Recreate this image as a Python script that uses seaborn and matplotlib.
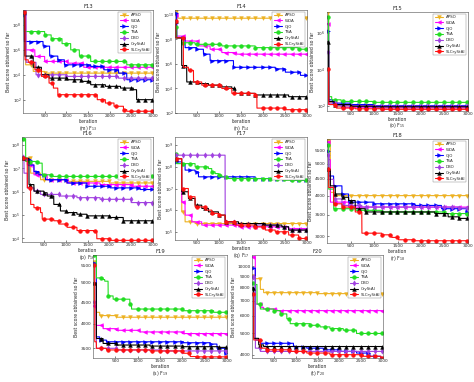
import numpy as np
import pandas as pd
import matplotlib
matplotlib.use('Agg')
import matplotlib.pyplot as plt
import seaborn as sns
from matplotlib.ticker import NullLocator, FuncFormatter, LogFormatterMathtext

ALGOS = ['APSO', 'WOA', 'GJO', 'TSA', 'DBO', 'CryStAl', 'SLCryStAl']
COLORS = {'APSO': '#EDB120', 'WOA': '#FF00FF', 'GJO': '#0000FF', 'TSA': '#22DD22',
          'DBO': '#A040E0', 'CryStAl': '#000000', 'SLCryStAl': '#FF1010'}
MARKERS = {'APSO': 'v', 'WOA': '<', 'GJO': '>', 'TSA': 'o', 'DBO': 'd',
           'CryStAl': '^', 'SLCryStAl': 'o'}
N_ITER = 3000

# convergence knots: (iteration, best score) ; F13-F17 store log10 of the score
f13_apso = ([0, 60, 235, 500], [9.1, 4.8, 4.27, 4.13])
f13_woa = ([0, 60, 273, 500, 1030, 1400], [9.25, 6.0, 5.47, 5.07, 4.93, 4.6])
f13_gjo = ([0, 30, 462, 614, 803, 955, 1561, 1864, 2205, 2394], [8.8, 6.67, 6.3, 5.5, 5.2, 4.8, 4.67, 4.4, 4.13, 3.6])
f13_tsa = ([0, 30, 500, 650, 900, 1100, 1300, 1561, 2394], [9.07, 7.47, 7.2, 6.9, 6.5, 6.0, 5.5, 5.07, 4.8])
f13_dbo = ([0, 70, 300, 1000, 2200], [9.0, 5.0, 4.0, 3.87, 3.73])
f13_crystal = ([0, 40, 235, 424, 600, 1030, 1333, 1561, 1900, 2250, 2545, 2621], [9.0, 5.5, 4.6, 4.0, 3.73, 3.6, 3.47, 3.2, 3.07, 2.93, 2.8, 2.0])
f13_slcrystal = ([0, 45, 121, 273, 424, 600, 700, 803, 1712, 1900, 2100, 2318, 2394], [9.0, 5.2, 5.0, 4.4, 3.87, 3.33, 2.93, 2.4, 2.0, 1.73, 1.47, 1.2, 1.07])

f14_apso = ([0, 61], [10.4, 9.73])
f14_woa = ([0, 38, 228, 532, 797, 1063, 1400], [10.0, 8.27, 7.87, 7.47, 7.2, 6.93, 6.8])
f14_gjo = ([0, 38, 228, 494, 646, 797, 1329, 2278, 2506, 2850], [10.13, 8.13, 7.33, 7.2, 6.8, 6.27, 5.73, 5.6, 5.33, 5.07])
f14_tsa = ([0, 38, 152, 456, 1063, 1823, 2800], [9.0, 8.13, 7.73, 7.6, 7.47, 7.33, 7.2])
f14_crystal = ([0, 15, 152, 266, 532, 760, 1063, 1291, 1367, 1823, 2582], [9.5, 8.13, 5.87, 4.53, 4.4, 4.27, 4.13, 4.0, 3.6, 3.47, 3.33])
f14_slcrystal = ([0, 15, 190, 304, 420, 608, 1063, 1291, 1823, 1861, 2500], [9.5, 8.13, 5.73, 5.47, 4.53, 4.27, 4.0, 3.6, 3.47, 2.4, 2.27])

f15_apso = ([0, 35, 200, 1000], [7.13, 2.2, 2.0, 1.9])
f15_woa = ([0, 35, 300, 1000], [6.5, 2.1, 1.94, 1.91])
f15_gjo = ([0, 35, 120, 500, 1000], [6.09, 2.35, 2.17, 2.09, 2.03])
f15_tsa = ([0, 35, 100, 300, 1000], [6.87, 2.52, 2.35, 2.26, 2.21])
f15_dbo = ([0, 35, 200, 1000], [4.96, 2.17, 2.03, 2.0])
f15_crystal = ([0, 35, 150, 500, 1000], [5.5, 2.26, 2.09, 2.0, 1.97])
f15_slcrystal = ([0, 35, 200, 600, 1200], [4.0, 2.09, 1.9, 1.86, 1.83])

f16_apso = ([0, 197, 424, 1000, 2000], [7.44, 6.8, 6.52, 6.45, 6.38])
f16_woa = ([0, 45, 121, 273, 576, 1030, 1788, 2500], [7.44, 7.37, 7.15, 6.73, 6.52, 6.38, 6.31, 6.24])
f16_gjo = ([0, 45, 197, 273, 386, 538, 1030, 1485, 2015, 2700], [7.44, 7.37, 7.15, 6.87, 6.73, 6.52, 6.38, 6.24, 6.17, 6.1])
f16_tsa = ([0, 83, 386, 462, 700], [8.28, 7.3, 7.23, 6.73, 6.66])
f16_dbo = ([0, 45, 121, 273, 424, 879, 1258, 1788, 2500], [7.5, 6.8, 6.17, 6.03, 5.89, 5.82, 5.75, 5.68, 5.54])
f16_crystal = ([0, 159, 273, 500, 576, 727, 879, 1030, 1258, 1485, 2015, 2318], [7.44, 6.31, 6.03, 5.96, 5.82, 5.46, 5.18, 5.11, 5.04, 4.97, 4.9, 4.76])
f16_slcrystal = ([0, 121, 197, 273, 424, 462, 727, 841, 1030, 1258, 1636, 1712, 2015], [7.44, 6.17, 5.46, 5.32, 5.11, 4.83, 4.76, 4.62, 4.48, 4.34, 4.31, 3.99, 3.92])

f17_apso = ([0, 152, 228, 456], [8.38, 5.92, 5.46, 5.38])
f17_woa = ([0, 152, 228, 380, 608, 1443, 2582], [8.38, 6.38, 5.77, 5.46, 5.31, 5.23, 5.15])
f17_gjo = ([0, 152, 228, 456, 532, 1823, 2700], [8.23, 8.15, 7.85, 7.77, 7.54, 7.46, 7.38])
f17_tsa = ([0, 38, 456, 759, 835, 911, 987, 1063, 1200, 2500], [8.6, 8.15, 8.0, 7.92, 7.77, 7.69, 7.62, 7.54, 7.46, 7.38])
f17_dbo = ([0, 1101, 1139, 1367, 1823, 2354, 2582], [8.54, 8.54, 5.46, 5.38, 5.31, 5.23, 5.08])
f17_crystal = ([0, 152, 304, 456, 608, 759, 987, 1139, 1443, 2051, 2430, 2582], [8.38, 6.85, 6.54, 6.23, 6.08, 5.92, 5.77, 5.46, 5.38, 5.31, 5.23, 5.08])
f17_slcrystal = ([0, 152, 304, 456, 684, 835, 987, 1139, 1367, 1823, 2051, 2278, 2582, 2810], [8.38, 7.0, 6.62, 6.15, 6.0, 5.85, 5.77, 5.46, 5.31, 5.23, 5.08, 5.0, 4.85, 4.69])

f18_apso = ([0, 71, 176], [5916, 4093, 4000])
f18_woa = ([0, 35, 71, 459], [5848, 5152, 3820, 3690])
f18_gjo = ([0, 35, 141, 318, 459, 1000, 1871, 2435, 2965], [5458, 4592, 4285, 4046, 3820, 3776, 3733, 3648, 3565])
f18_tsa = ([0, 35, 141, 600, 1165, 2500], [5715, 4188, 3648, 3606, 3565, 3525])
f18_dbo = ([0, 35, 141, 318, 741, 2800], [5333, 4487, 3908, 3733, 3690, 3665])
f18_crystal = ([0, 71, 176, 318, 459, 600, 812, 2294, 2576, 2800], [4808, 4285, 4046, 3954, 3864, 3648, 3565, 3525, 3445, 3407])
f18_slcrystal = ([0, 35, 141, 318, 600, 741, 1165, 1376, 1518, 1871], [4808, 4237, 3776, 3690, 3565, 3070, 3035, 2980, 2931, 2911])

f19_apso = ([0, 22, 75, 150, 525], [5600, 4493, 4259, 4183, 4146])
f19_woa = ([0, 75, 225, 525, 1050, 2000], [4413, 3966, 3896, 3861, 3827, 3793])
f19_gjo = ([0, 75, 150, 300, 2025, 2625, 2775, 2950], [5567, 3725, 3660, 3627, 3608, 3582, 3500, 3407])
f19_tsa = ([0, 75, 225, 262, 338, 450, 825, 862, 2025, 2700], [5820, 5137, 5091, 5046, 4656, 4574, 4453, 4335, 4296, 4259])
f19_dbo = ([0, 75, 525, 1500], [4500, 3500, 3469, 3450])
f19_crystal = ([0, 75, 225, 525, 1275, 2025, 2800], [5000, 3692, 3594, 3563, 3543, 3531, 3518])
f19_slcrystal = ([0, 38, 75, 300, 1275, 2025, 2175, 2300], [5500, 3627, 3500, 3469, 3450, 3407, 3347, 3341])

f20_apso = ([0, 38, 190, 266, 1500], [9016, 8800, 7876, 7612, 7536])
f20_woa = ([0, 76, 190, 266, 570], [11050, 6761, 6537, 6426, 6318])
f20_gjo = ([0, 76, 190, 949, 1253, 1633, 2013, 2392, 2700, 2950], [9813, 4660, 4503, 4354, 4280, 4208, 4139, 4069, 3934, 3867])
f20_tsa = ([0, 38, 114, 190, 494, 646, 797, 873, 1329, 1557, 1785, 2089, 2392], [8427, 8285, 6761, 6426, 6318, 6107, 5805, 5518, 5425, 5336, 5245, 5157, 4985])
f20_dbo = ([0, 76, 190], [9000, 4280, 4139])
f20_crystal = ([0, 38, 152, 266], [8000, 4739, 4428, 4354])
f20_slcrystal = ([0, 38, 190, 342, 873, 1253, 1785, 2544, 2950], [7500, 4660, 4280, 4208, 4139, 4069, 4000, 3934, 3867])

titles = ['F13', 'F14', 'F15', 'F16', 'F17', 'F18', 'F19', 'F20']
captions = ['(m) F$_{13}$', '(n) F$_{14}$', '(o) F$_{15}$', '(p) F$_{16}$',
            '(q) F$_{17}$', '(r) F$_{18}$', '(s) F$_{19}$', '(t) F$_{20}$']

panels = {
    'F13': {'APSO': f13_apso, 'WOA': f13_woa, 'GJO': f13_gjo, 'TSA': f13_tsa, 'DBO': f13_dbo, 'CryStAl': f13_crystal, 'SLCryStAl': f13_slcrystal},
    'F14': {'APSO': f14_apso, 'WOA': f14_woa, 'GJO': f14_gjo, 'TSA': f14_tsa, 'CryStAl': f14_crystal, 'SLCryStAl': f14_slcrystal},
    'F15': {'APSO': f15_apso, 'WOA': f15_woa, 'GJO': f15_gjo, 'TSA': f15_tsa, 'DBO': f15_dbo, 'CryStAl': f15_crystal, 'SLCryStAl': f15_slcrystal},
    'F16': {'APSO': f16_apso, 'WOA': f16_woa, 'GJO': f16_gjo, 'TSA': f16_tsa, 'DBO': f16_dbo, 'CryStAl': f16_crystal, 'SLCryStAl': f16_slcrystal},
    'F17': {'APSO': f17_apso, 'WOA': f17_woa, 'GJO': f17_gjo, 'TSA': f17_tsa, 'DBO': f17_dbo, 'CryStAl': f17_crystal, 'SLCryStAl': f17_slcrystal},
    'F18': {'APSO': f18_apso, 'WOA': f18_woa, 'GJO': f18_gjo, 'TSA': f18_tsa, 'DBO': f18_dbo, 'CryStAl': f18_crystal, 'SLCryStAl': f18_slcrystal},
    'F19': {'APSO': f19_apso, 'WOA': f19_woa, 'GJO': f19_gjo, 'TSA': f19_tsa, 'DBO': f19_dbo, 'CryStAl': f19_crystal, 'SLCryStAl': f19_slcrystal},
    'F20': {'APSO': f20_apso, 'WOA': f20_woa, 'GJO': f20_gjo, 'TSA': f20_tsa, 'DBO': f20_dbo, 'CryStAl': f20_crystal, 'SLCryStAl': f20_slcrystal},
}
log_stored = ['F13', 'F14', 'F15', 'F16', 'F17']

# y range (log10 for the first five) and tick values per panel
ylims = {'F13': (0.93, 9.2), 'F14': (2.13, 10.4), 'F15': (1.74, 7.13), 'F16': (3.85, 8.35),
         'F17': (4.62, 9.38), 'F18': (2865, 5960), 'F19': (3320, 5820), 'F20': (3865, 11250)}
yticks = {'F13': [2, 4, 6, 8], 'F14': [2, 4, 6, 8, 10], 'F15': [2, 4, 6], 'F16': [4, 5, 6, 7, 8],
          'F17': [5, 6, 7, 8, 9], 'F18': [3000, 3500, 4000, 4500, 5000, 5500],
          'F19': [3500, 4000, 4500, 5000, 5500],
          'F20': [4000, 5000, 6000, 7000, 8000, 9000, 10000]}

# axes rectangles in pixels: left, top, width, height
W, H = 474, 382
boxes = {'F13': (23, 10, 130, 103), 'F14': (175, 10, 132, 103), 'F15': (327, 12, 141, 99),
         'F16': (22, 137, 131, 105), 'F17': (175, 137, 132, 103), 'F18': (327, 139, 141, 104),
         'F19': (93, 255, 134, 103), 'F20': (252, 255, 131, 103)}


def best_so_far(knots):
    it, val = knots
    s = pd.Series(val, index=it, dtype=float)
    return s.reindex(range(0, N_ITER + 1)).ffill()


sns.set_theme(style='ticks')
plt.rcParams['font.family'] = ['DejaVu Sans']
fig = plt.figure(figsize=(W / 100, H / 100), dpi=100)

for key, cap in zip(titles, captions):
    l, t, w, h = boxes[key]
    ax = fig.add_axes([l / W, 1 - (t + h) / H, w / W, h / H])
    for name in ALGOS:
        if name not in panels[key]:
            continue
        s = best_so_far(panels[key][name])
        if key in log_stored:
            s = 10 ** s
        sns.lineplot(x=s.index, y=s.values, ax=ax, color=COLORS[name], label=name,
                     marker=MARKERS[name], markersize=2.7, markeredgewidth=0.35,
                     markeredgecolor=COLORS[name], markevery=(12, 165),
                     linewidth=0.8, estimator=None)
    ax.set_yscale('log')
    lo, hi = ylims[key]
    if key in log_stored:
        ax.set_ylim(10 ** lo, 10 ** hi)
        ax.set_yticks([10.0 ** k for k in yticks[key]])
        ax.yaxis.set_major_formatter(LogFormatterMathtext())
    else:
        ax.set_ylim(lo, hi)
        ax.set_yticks(yticks[key])
        ax.yaxis.set_major_formatter(FuncFormatter(lambda v, p: f'{v:.0f}'))
    ax.yaxis.set_minor_locator(NullLocator())
    ax.set_xlim(0, N_ITER)
    ax.set_xticks([500, 1000, 1500, 2000, 2500, 3000])
    ax.tick_params(labelsize=3.1, direction='in', length=1.5, width=0.4, pad=1.0)
    for sp in ax.spines.values():
        sp.set_linewidth(0.4)
        sp.set_color('0.3')
    ax.set_title(key, fontsize=3.8, pad=1.2)
    ax.set_xlabel('Iteration', fontsize=3.3, labelpad=0.5)
    ax.set_ylabel('Best score obtained so far', fontsize=3.3, labelpad=1)
    ax.text(0.5, -0.105, cap, transform=ax.transAxes, ha='center', va='top', fontsize=3.3)
    leg = ax.legend(loc='upper right', fontsize=2.9, frameon=True, fancybox=False,
                    edgecolor='0.5', framealpha=1, handlelength=2.2, borderpad=0.35,
                    labelspacing=0.45, handletextpad=0.5, borderaxespad=0.4)
    leg.get_frame().set_linewidth(0.3)

fig.savefig('out.png', dpi=100, facecolor='white')
